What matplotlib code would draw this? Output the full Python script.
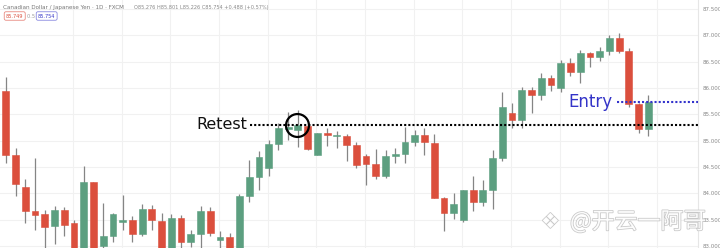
import matplotlib.pyplot as plt
import matplotlib.patheffects as pe
import numpy as np

# daily CAD/JPY candles
opens = [85.949, 84.718, 84.119, 83.657, 83.608, 83.373, 83.676, 83.438, 82.705, 84.206,
         82.994, 83.184, 83.462, 83.500, 83.229, 83.703, 83.481, 82.837, 83.525, 83.070,
         83.229, 83.657, 83.108, 83.165, 82.780, 83.941, 84.309, 84.479, 84.939, 85.223,
         85.205, 85.280, 84.731, 85.153, 85.095, 85.091, 84.920, 84.712, 84.555, 84.320,
         84.712, 84.750, 84.977, 85.110, 84.953, 83.911, 83.627, 83.487, 84.055, 83.828,
         84.068, 84.669, 85.521, 85.394, 85.962, 85.867, 86.184, 85.994, 86.468, 86.309,
         86.657, 86.581, 86.706, 86.941, 86.706, 85.697, 85.218]
highs = [86.214, 84.864, 84.277, 84.674, 83.689, 83.752, 83.746, 83.500, 84.509, 84.220,
         83.822, 83.633, 83.973, 83.562, 83.803, 83.784, 83.633, 83.614, 83.595, 83.311,
         83.752, 83.733, 83.278, 83.248, 83.992, 84.636, 84.794, 85.015, 85.331, 85.551,
         85.583, 85.299, 85.142, 85.237, 85.191, 85.129, 84.964, 84.750, 84.839, 84.826,
         84.858, 85.267, 85.205, 85.237, 85.129, 83.936, 84.006, 84.068, 84.320, 84.244,
         84.812, 85.930, 85.722, 86.025, 86.025, 86.278, 86.246, 86.530, 86.562, 86.720,
         86.688, 86.771, 87.004, 87.047, 86.752, 85.716, 85.867]
lows = [84.580, 83.941, 83.443, 83.311, 82.837, 83.027, 83.184, 82.648, 82.553, 82.591,
        82.780, 83.070, 83.311, 83.070, 83.197, 83.311, 82.780, 82.705, 82.818, 82.970,
        82.837, 83.184, 82.818, 82.705, 82.705, 83.828, 84.068, 84.320, 84.812, 85.015,
        84.877, 84.826, 84.722, 84.902, 84.858, 84.604, 84.479, 84.163, 84.271, 84.290,
        84.574, 84.574, 84.902, 84.731, 83.911, 83.278, 83.513, 83.462, 83.657, 83.752,
        83.703, 84.604, 85.237, 85.237, 85.521, 85.773, 85.949, 85.930, 86.227, 86.089,
        86.403, 86.517, 86.625, 86.657, 85.646, 85.142, 85.091]
closes = [84.731, 84.176, 83.657, 83.595, 83.362, 83.676, 83.392, 82.837, 84.206, 82.780,
          83.184, 83.614, 83.500, 83.229, 83.703, 83.487, 82.894, 83.525, 83.070, 83.229,
          83.657, 83.248, 83.165, 82.818, 83.941, 84.309, 84.680, 84.939, 85.237, 85.252,
          85.294, 84.839, 85.142, 85.110, 85.104, 84.920, 84.542, 84.555, 84.320, 84.712,
          84.750, 84.977, 85.110, 84.964, 83.911, 83.627, 83.797, 84.055, 83.828, 84.068,
          84.669, 85.646, 85.394, 85.962, 85.867, 86.184, 86.057, 86.468, 86.309, 86.657,
          86.581, 86.706, 86.941, 86.706, 85.697, 85.218, 85.741]

price_ticks = [83.0, 83.5, 84.0, 84.5, 85.0, 85.5, 86.0, 86.5, 87.0, 87.5]
retest_level = 85.30
retest_bar = 30
entry_level = 85.741

title = "Canadian Dollar / Japanese Yen \u00b7 1D \u00b7 FXCM"
ohlc_text = "O85.276 H85.801 L85.226 C85.754 +0.488 (+0.57%)"
sell_price, spread, buy_price = "85.749", "0.5", "85.754"

up_col = "#5c9f80"
down_col = "#db4f3d"
wick_col = "#858585"

fig = plt.figure(figsize=(7.2, 2.48), dpi=100)
ax = fig.add_axes([0, 0, 698 / 720, 1])

x = np.arange(len(opens))
o = np.array(opens)
c = np.array(closes)
up = c >= o
cols = np.where(up, up_col, down_col)

# grid
for p in price_ticks:
    ax.axhline(p, color="#f1f1f1", lw=0.8, zorder=0)
for gx in np.arange(6.9, len(x), 5):
    ax.axvline(gx, color="#f1f1f1", lw=0.8, zorder=0)

ax.vlines(x, lows, highs, color=wick_col, lw=0.9, zorder=2)
body_h = np.maximum(np.abs(c - o), 0.012)
ax.bar(x, body_h, bottom=np.minimum(o, c), width=0.7, color=cols,
       edgecolor=cols, linewidth=0.4, zorder=3)

ax.set_xlim(-0.6, 71.1)
ax.set_ylim(82.96, 87.67)

# retest line + circle
ax.plot([25.1, 71.1], [retest_level, retest_level], color="black", lw=1.5,
        ls=(0, (1, 1)), dash_capstyle="butt", zorder=4)
ax.text(24.8, retest_level, "Retest", fontsize=11.5, ha="right", va="center",
        color="#111111", zorder=5)
ax.plot([retest_bar - 0.1], [retest_level], marker="o", ms=16.5, mfc="none",
        mec="black", mew=1.6, zorder=5)

# entry line
ax.plot([62.8, 71.1], [entry_level, entry_level], color="#3333cc", lw=1.5,
        ls=(0, (1, 1)), dash_capstyle="butt", zorder=4)
ax.text(62.3, entry_level, "Entry", fontsize=12, ha="right", va="center",
        color="#3434c8", zorder=5)

# right price scale
ax.yaxis.tick_right()
ax.set_yticks(price_ticks)
ax.set_yticklabels([f"{p:.3f}" for p in price_ticks])
ax.tick_params(axis="y", length=0, pad=3, labelsize=4.0, labelcolor="#888888")
ax.set_xticks([])
for s in ["top", "left", "bottom"]:
    ax.spines[s].set_visible(False)
ax.spines["right"].set_color("#e6e6e6")
ax.spines["right"].set_linewidth(0.8)

# header
fig.text(3 / 720, 1 - 7 / 248, title, fontsize=4.1, color="#777777", va="center")
fig.text(134 / 720, 1 - 7 / 248, ohlc_text, fontsize=3.6, color="#888888", va="center")
fig.text(6 / 720, 1 - 16 / 248, sell_price, fontsize=3.6, color="#db4f3d", va="center",
         bbox=dict(boxstyle="round,pad=0.35", fc="white", ec="#e88a80", lw=0.6))
fig.text(27 / 720, 1 - 16 / 248, spread + " \u00b7", fontsize=3.6, color="#999999",
         va="center")
fig.text(38 / 720, 1 - 16 / 248, buy_price, fontsize=3.6, color="#3434c8", va="center",
         bbox=dict(boxstyle="round,pad=0.35", fc="white", ec="#8a8ae0", lw=0.6))

# watermark
wm = dict(color="white", va="center", alpha=0.95,
          path_effects=[pe.withStroke(linewidth=1.1, foreground="#c4c4c4")])
fig.text(541 / 720, 1 - 222 / 248, "\u2756", fontsize=15, family="DejaVu Sans", **wm)
fig.text(570 / 720, 1 - 222 / 248, "@开云一阿哥", fontsize=16.5,
         family=["Noto Sans CJK SC", "DejaVu Sans"], **wm)

fig.savefig("out.png", dpi=100)
